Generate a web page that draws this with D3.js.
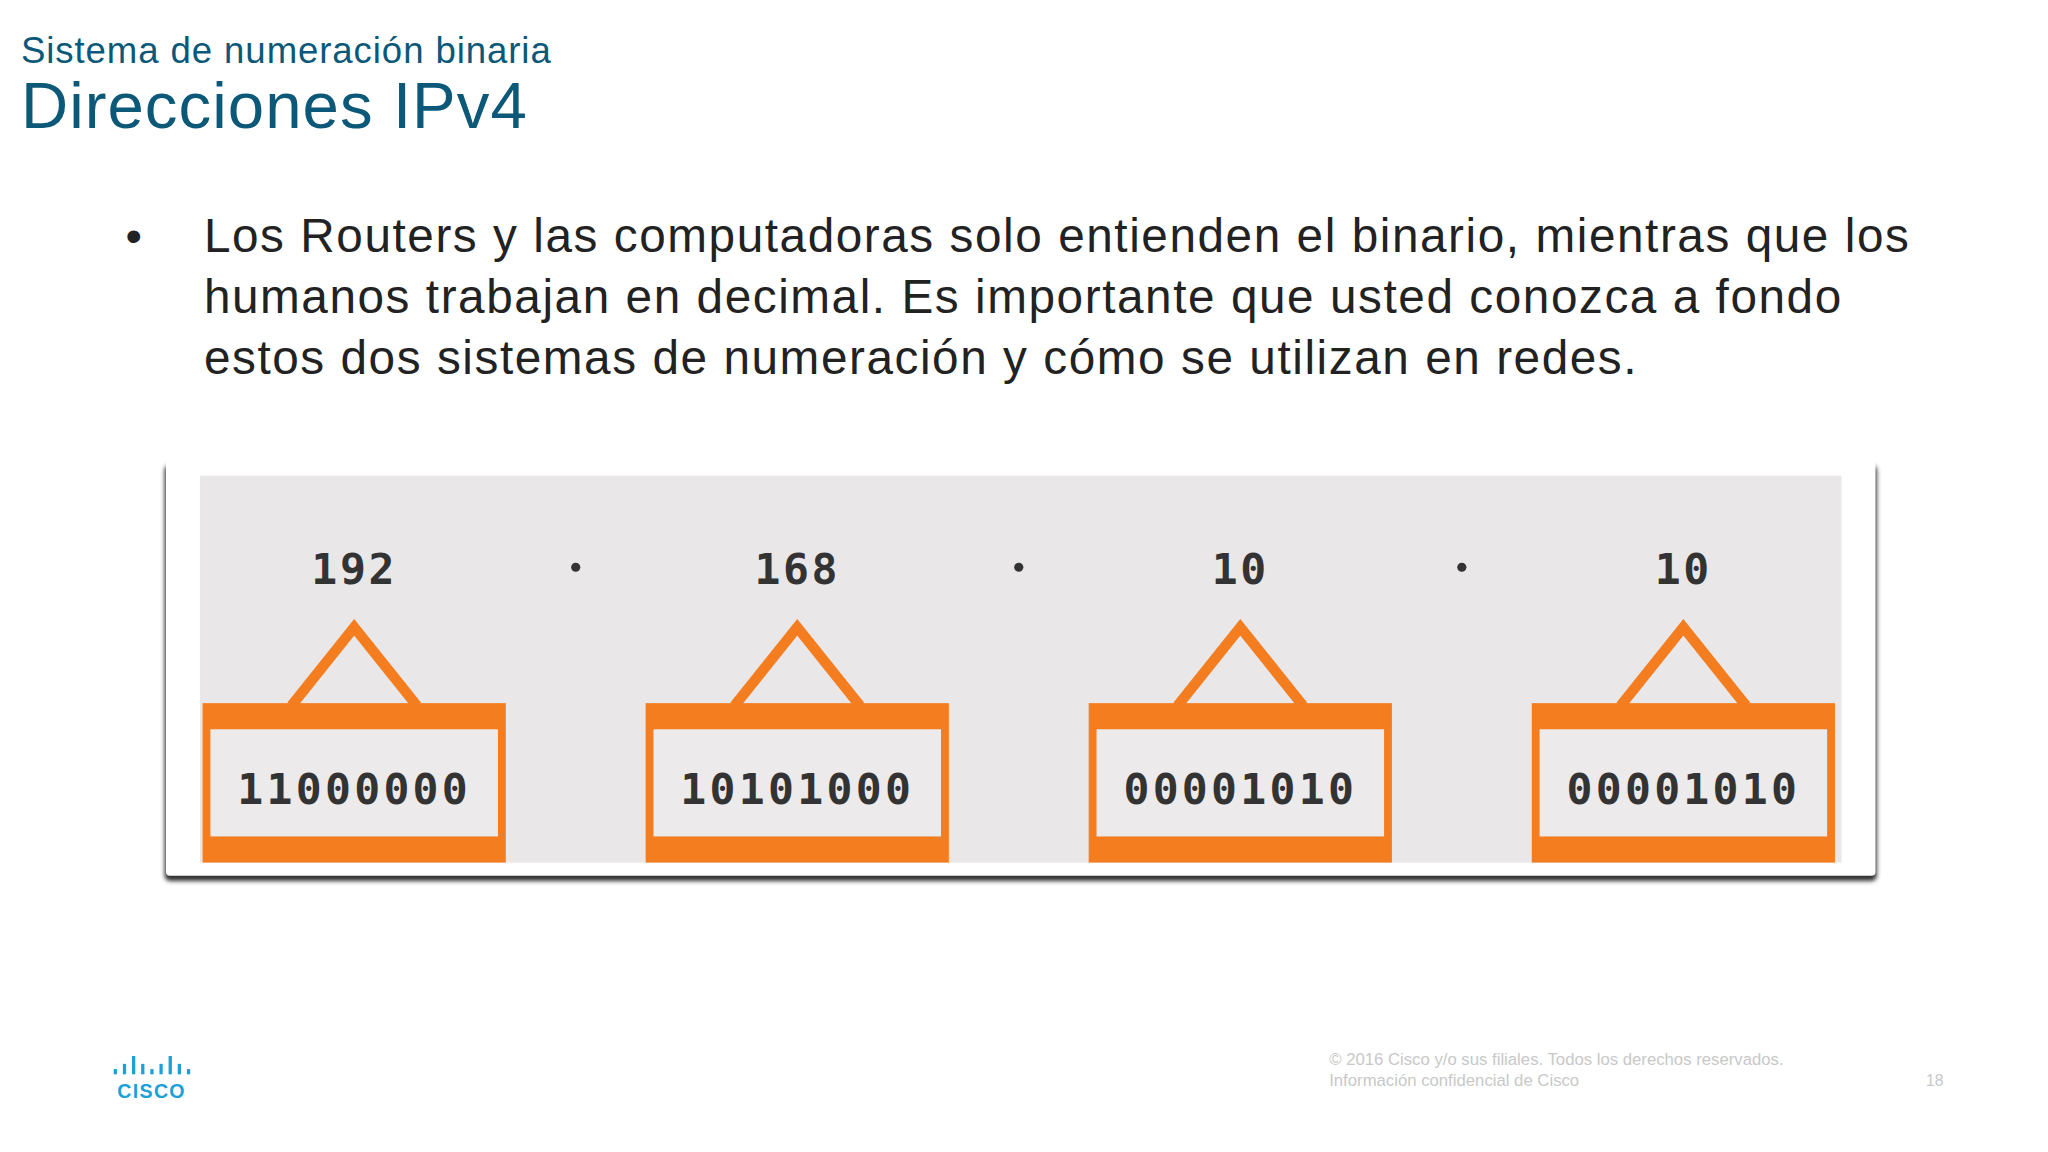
<!DOCTYPE html>
<html><head><meta charset="utf-8">
<script src="https://cdn.jsdelivr.net/npm/d3@7"></script>
<style>body{margin:0;background:#fff}</style>
</head><body>
<svg id="c" width="2048" height="1152"></svg>
<script>
// data
var decimals=["192","168","10","10"];
var binaries=["11000000","10101000","00001010","00001010"];
var bulletLines=["Los Routers y las computadoras solo entienden el binario, mientras que los",
  "humanos trabajan en decimal. Es importante que usted conozca a fondo",
  "estos dos sistemas de numeración y cómo se utilizan en redes."];

var S=2048/1567;
var svg=d3.select("#c");
var g=svg.append("g").attr("transform","scale("+S+")");
var sans="Arial, 'Liberation Sans', sans-serif";
var mono="'DejaVu Sans Mono', 'Liberation Mono', monospace";
var orange="#f47d20";

g.append("text").attr("x",16).attr("y",48).attr("font-family",sans).attr("font-size",28).attr("letter-spacing",0.7).attr("fill","#0b5878").text("Sistema de numeración binaria");
g.append("text").attr("x",16).attr("y",98).attr("font-family",sans).attr("font-size",50).attr("letter-spacing",0.8).attr("fill","#0b5878").text("Direcciones IPv4");

g.append("text").attr("x",96).attr("y",193).attr("font-family",sans).attr("font-size",36).attr("fill","#222").text("•");
g.selectAll("text.b").data(bulletLines).enter().append("text").attr("class","b")
  .attr("x",156).attr("y",function(d,i){return 193+i*46.5;})
  .attr("font-family",sans).attr("font-size",36.5).attr("letter-spacing",1.2).attr("fill","#222").text(function(d){return d;});

// panel
var defs=svg.append("defs");
var f=defs.append("filter").attr("id","bl").attr("x","-10%").attr("y","-10%").attr("width","120%").attr("height","120%");
f.append("feGaussianBlur").attr("stdDeviation",1.5);
g.append("rect").attr("x",126).attr("y",356).attr("width",1310).attr("height",318).attr("rx",4).attr("fill","#333").attr("filter","url(#bl)");
g.append("rect").attr("x",127).attr("y",352).attr("width",1308).attr("height",318).attr("rx",3).attr("fill","#fff");
g.append("rect").attr("x",153).attr("y",364).attr("width",1256).attr("height",296).attr("fill","#e9e7e7");

var x=d3.scalePoint().domain(d3.range(decimals.length)).range([271,1288]);
var bw=232,boxTop=538,bh=122;

var oct=g.selectAll("g.o").data(decimals).enter().append("g").attr("class","o");
oct.append("text").attr("x",function(d,i){return x(i);}).attr("y",447).attr("text-anchor","middle")
  .attr("font-family",mono).attr("font-weight","bold").attr("font-size",33).attr("letter-spacing",2).attr("fill","#333").text(function(d){return d;});
oct.append("path").attr("d",function(d,i){var c=x(i);return "M"+(c-48)+","+(boxTop+2)+"L"+c+","+(boxTop-58)+"L"+(c+48)+","+(boxTop+2);})
  .attr("fill","none").attr("stroke",orange).attr("stroke-width",8);
oct.append("rect").attr("x",function(d,i){return x(i)-bw/2;}).attr("y",boxTop).attr("width",bw).attr("height",bh).attr("fill",orange);
oct.append("rect").attr("x",function(d,i){return x(i)-bw/2+6;}).attr("y",boxTop+20).attr("width",bw-12).attr("height",bh-40).attr("fill","#eceaea");
oct.append("text").attr("x",function(d,i){return x(i);}).attr("y",615).attr("text-anchor","middle")
  .attr("font-family",mono).attr("font-weight","bold").attr("font-size",33).attr("letter-spacing",2.5).attr("fill","#333").text(function(d,i){return binaries[i];});

g.selectAll("circle.dot").data(d3.range(decimals.length-1)).enter().append("circle").attr("class","dot")
  .attr("cx",function(i){return (x(i)+x(i+1))/2;}).attr("cy",434).attr("r",3.5).attr("fill","#333");

// footer
var bars=[4,8,14,8,4,8,14,8,4];
g.selectAll("rect.l").data(bars).enter().append("rect").attr("class","l")
  .attr("x",function(d,i){return 87+i*7;}).attr("y",function(d){return 822-d;}).attr("width",2.5).attr("height",function(d){return d;}).attr("fill","#1ba0d7");
g.append("text").attr("x",116).attr("y",840).attr("text-anchor","middle").attr("font-family",sans).attr("font-weight","bold").attr("font-size",15).attr("letter-spacing",1).attr("fill","#1ba0d7").text("CISCO");
g.append("text").attr("x",1017).attr("y",815).attr("font-family",sans).attr("font-size",12.8).attr("fill","#c8c8c8").text("© 2016 Cisco y/o sus filiales. Todos los derechos reservados.");
g.append("text").attr("x",1017).attr("y",831).attr("font-family",sans).attr("font-size",12.8).attr("fill","#c8c8c8").text("Información confidencial de Cisco");
g.append("text").attr("x",1487).attr("y",831).attr("text-anchor","end").attr("font-family",sans).attr("font-size",12).attr("fill","#c8c8c8").text("18");
</script>
</body></html>
